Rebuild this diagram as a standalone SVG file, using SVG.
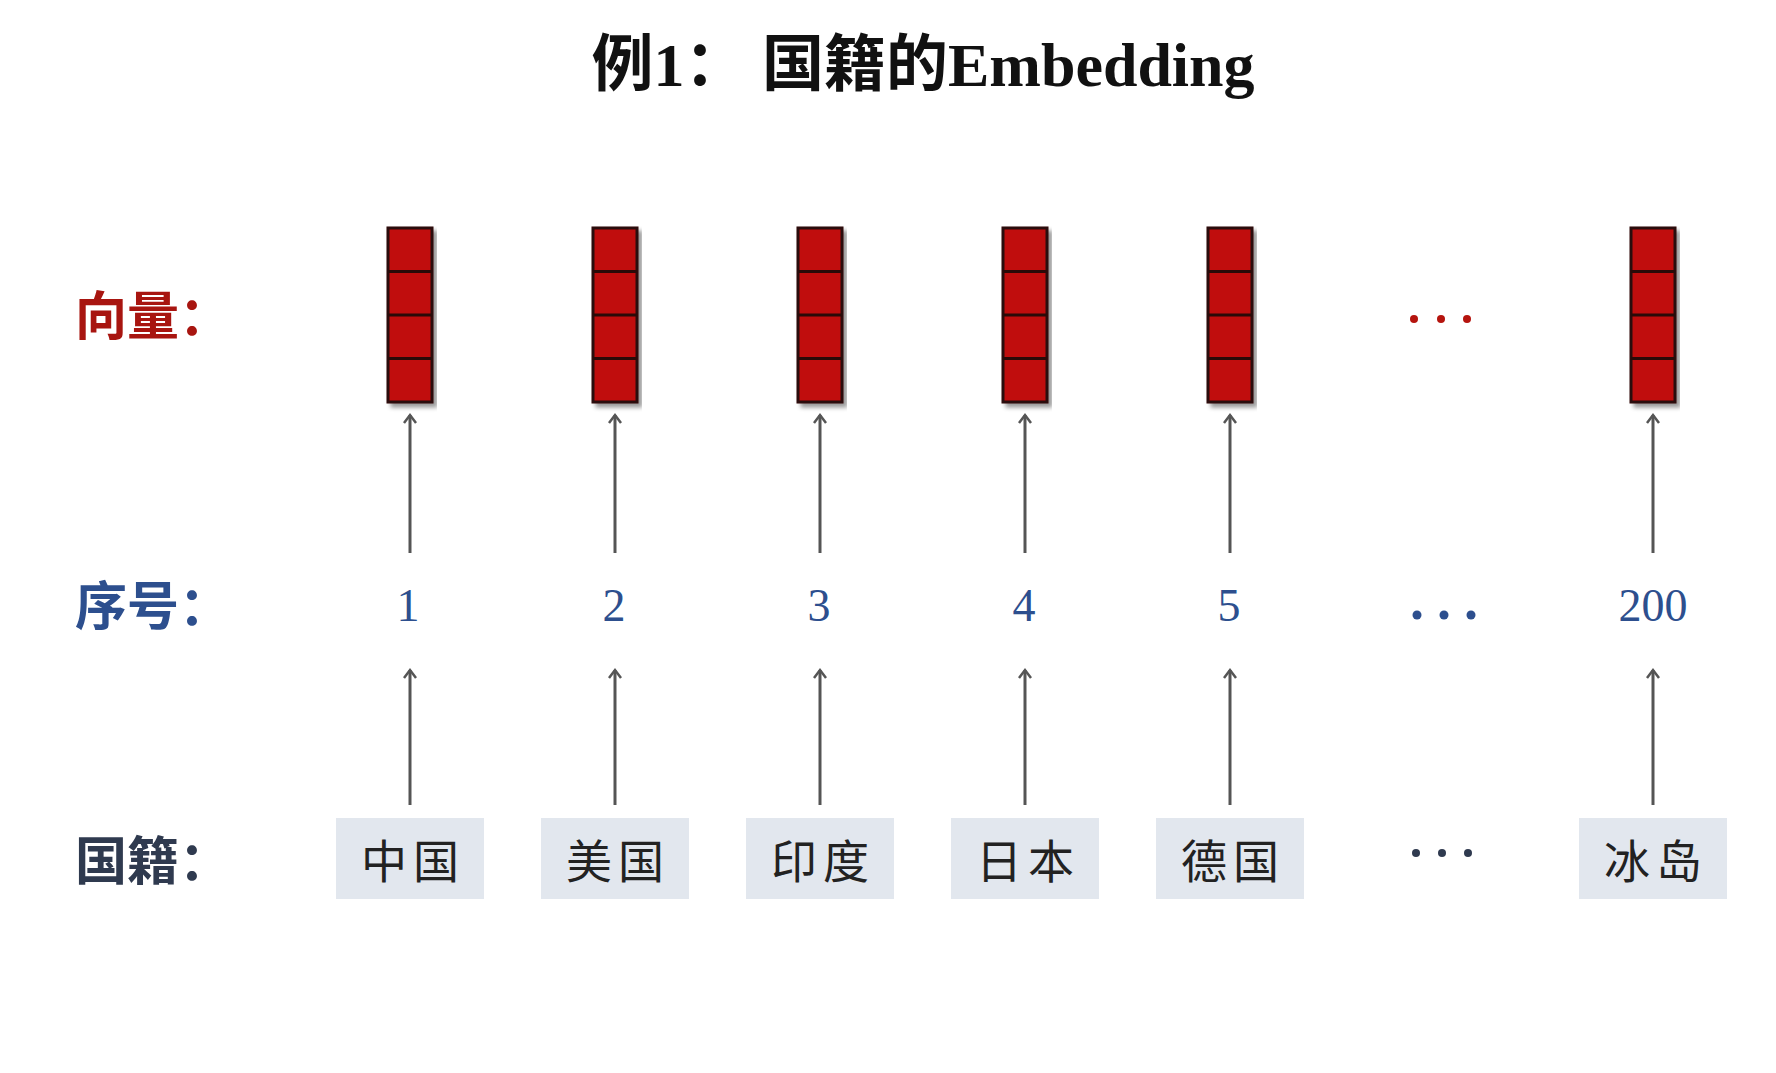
<svg xmlns="http://www.w3.org/2000/svg" width="1776" height="1073" viewBox="0 0 1776 1073">
<style>
.t{font-family:"Liberation Serif","Noto Sans CJK SC",serif}
.vec rect{fill:#c00f08;stroke:#2a0a08;stroke-width:2.5}
.num{font-family:"Liberation Serif",serif;font-size:46px;fill:#2d4f8e;text-anchor:middle}
.box rect{fill:#e2e7ee}
.box text{font-family:"Noto Sans CJK SC",serif;font-size:46px;fill:#222;text-anchor:middle;letter-spacing:6px}
.arr{stroke:#555;stroke-width:3;fill:none;marker-end:url(#ah)}
</style>
<defs>
<marker id="ah" markerWidth="14" markerHeight="14" refX="9" refY="7" orient="auto" markerUnits="userSpaceOnUse"><path d="M1,1 L9,7 L1,13" fill="none" stroke="#555" stroke-width="2.5"/></marker>
<filter id="sh"><feDropShadow dx="4" dy="4" stdDeviation="2" flood-color="#000" flood-opacity="0.4"/></filter>
<g id="v"><g filter="url(#sh)"><rect x="-22" y="0" width="44" height="174" fill="#c00f08" stroke="#2a0a08" stroke-width="3"/></g><g stroke="#2a0a08" stroke-width="3"><line x1="-22" y1="43.5" x2="22" y2="43.5"/><line x1="-22" y1="87" x2="22" y2="87"/><line x1="-22" y1="130.5" x2="22" y2="130.5"/></g></g>
</defs>
<rect width="1776" height="1073" fill="#fff"/>
<text x="923" y="86" font-family="Liberation Serif,'Noto Sans CJK SC',serif" font-weight="bold" font-size="62" text-anchor="middle" fill="#111">例1：  国籍的Embedding</text>
<g id="labels" font-family="'Noto Sans CJK SC',serif" font-size="52" font-weight="bold">
<text x="75" y="335" fill="#a81510">向量：</text>
<text x="75" y="625" fill="#2d4f8e">序号：</text>
<text x="75" y="880" fill="#2f3a4f">国籍：</text>
</g>
<g id="vectors">
<use href="#v" x="410" y="228"/><use href="#v" x="615" y="228"/><use href="#v" x="820" y="228"/><use href="#v" x="1025" y="228"/><use href="#v" x="1230" y="228"/><use href="#v" x="1653" y="228"/>
</g>
<g id="numbers">
<text class="num" x="408" y="621">1</text><text class="num" x="614" y="621">2</text><text class="num" x="819" y="621">3</text><text class="num" x="1024" y="621">4</text><text class="num" x="1229" y="621">5</text><text class="num" x="1653" y="621">200</text>
</g>
<g id="boxes" class="box">
<g id="b1"><rect x="336" y="818" width="148" height="81"/><text x="413" y="878">中国</text></g>
<g id="b2"><rect x="541" y="818" width="148" height="81"/><text x="618" y="878">美国</text></g>
<g id="b3"><rect x="746" y="818" width="148" height="81"/><text x="823" y="878">印度</text></g>
<g id="b4"><rect x="951" y="818" width="148" height="81"/><text x="1028" y="878">日本</text></g>
<g id="b5"><rect x="1156" y="818" width="148" height="81"/><text x="1233" y="878">德国</text></g>
<g id="b6"><rect x="1579" y="818" width="148" height="81"/><text x="1656" y="878">冰岛</text></g>
</g>
<g id="dots">
<g fill="#b5140e"><circle cx="1414" cy="319" r="4"/><circle cx="1441" cy="319" r="4"/><circle cx="1467" cy="319" r="4"/></g>
<g fill="#2d4f8e"><circle cx="1417" cy="615" r="4.5"/><circle cx="1444" cy="615" r="4.5"/><circle cx="1471" cy="615" r="4.5"/></g>
<g fill="#2f3a4f"><circle cx="1416" cy="853" r="4"/><circle cx="1442" cy="853" r="4"/><circle cx="1468" cy="853" r="4"/></g>
</g>
<g id="connectors">
<line class="arr" x1="410" y1="553" x2="410" y2="415"/><line class="arr" x1="615" y1="553" x2="615" y2="415"/><line class="arr" x1="820" y1="553" x2="820" y2="415"/><line class="arr" x1="1025" y1="553" x2="1025" y2="415"/><line class="arr" x1="1230" y1="553" x2="1230" y2="415"/><line class="arr" x1="1653" y1="553" x2="1653" y2="415"/>
<line class="arr" x1="410" y1="805" x2="410" y2="670"/><line class="arr" x1="615" y1="805" x2="615" y2="670"/><line class="arr" x1="820" y1="805" x2="820" y2="670"/><line class="arr" x1="1025" y1="805" x2="1025" y2="670"/><line class="arr" x1="1230" y1="805" x2="1230" y2="670"/><line class="arr" x1="1653" y1="805" x2="1653" y2="670"/>
</g>
</svg>
